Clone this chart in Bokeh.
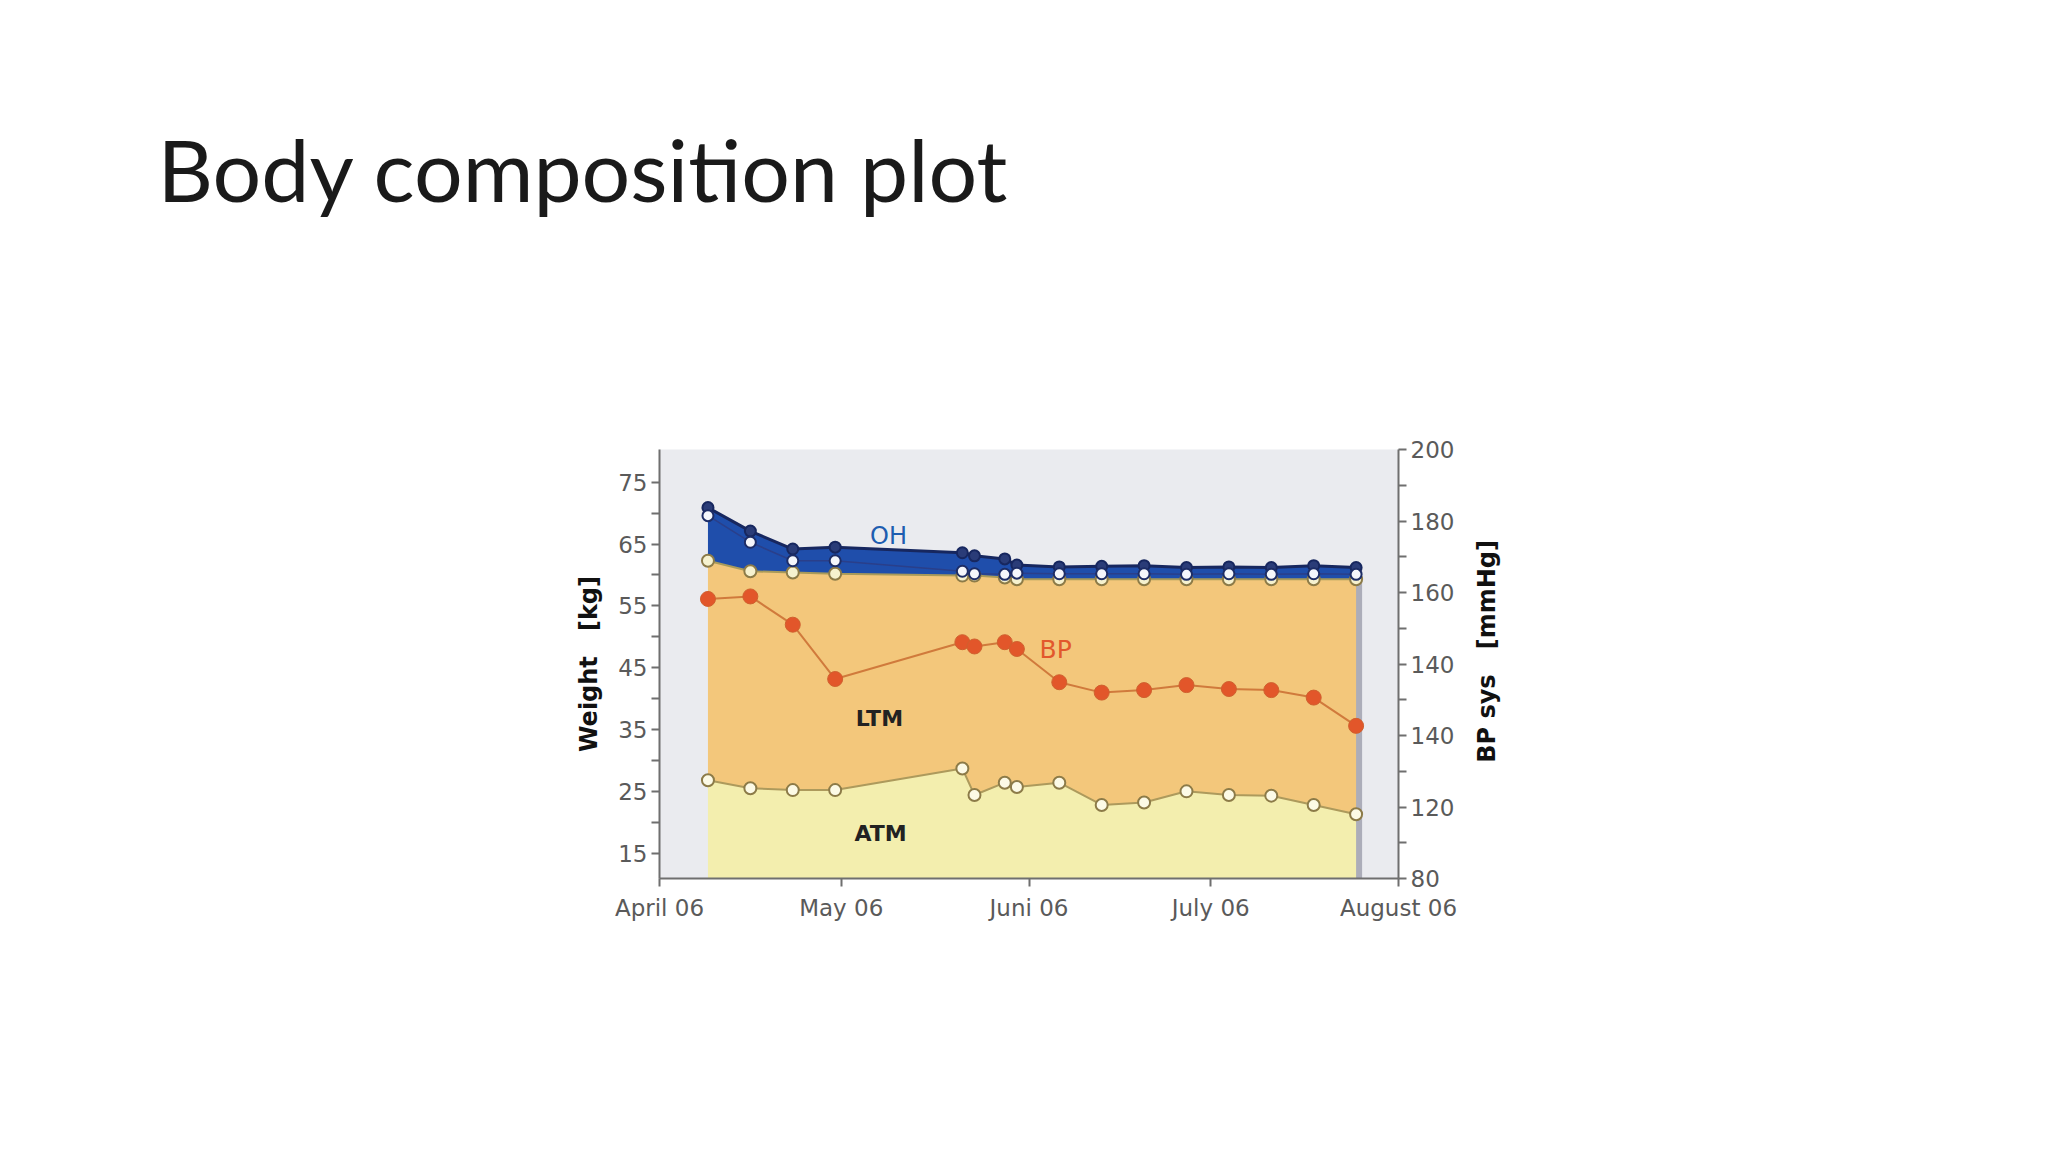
import math
import pandas as pd
from bokeh.plotting import figure
from bokeh.models import Range1d, LinearAxis, FixedTicker, Label, ColumnDataSource, Title
from bokeh.layouts import row
from bokeh.embed import file_html
from bokeh.resources import INLINE

# ---------------- data ----------------
dates = ["2006-04-09", "2006-04-16", "2006-04-23", "2006-04-30", "2006-05-21", "2006-05-23",
         "2006-05-28", "2006-05-30", "2006-06-06", "2006-06-13", "2006-06-20", "2006-06-27",
         "2006-07-04", "2006-07-11", "2006-07-18", "2006-07-25"]
weight_total = [70.9, 67.1, 64.2, 64.5, 63.6, 63.1, 62.6, 61.6, 61.3, 61.4, 61.5, 61.2,
                61.3, 61.2, 61.5, 61.2]
weight_normo = [69.6, 65.3, 62.3, 62.3, 60.6, 60.2, 60.1, 60.3, 60.2, 60.2, 60.2, 60.1,
                60.2, 60.1, 60.2, 60.1]
ltm_top = [62.3, 60.6, 60.4, 60.2, 59.9, 59.9, 59.6, 59.3, 59.3, 59.3, 59.3, 59.3,
           59.3, 59.3, 59.3, 59.3]
atm = [26.8, 25.5, 25.2, 25.2, 28.7, 24.4, 26.4, 25.7, 26.4, 22.8, 23.2, 25.0,
       24.4, 24.3, 22.8, 21.3]
bp_sys = [158.2, 158.9, 151.0, 135.8, 146.1, 144.9, 146.1, 144.2, 134.9, 132.0, 132.7, 134.1,
          133.0, 132.7, 130.6, 122.7]

start_date = "2006-04-01"
month_ticks = ["2006-04-01", "2006-05-01", "2006-06-01", "2006-07-01", "2006-08-01"]
month_labels = ["April 06", "May 06", "Juni 06", "July 06", "August 06"]
weight_ticks = [15, 25, 35, 45, 55, 65, 75]
weight_minor = [20, 30, 40, 50, 60, 70]
bp_ticks = [80, 100, 120, 140, 160, 180, 200]
bp_tick_labels = ["80", "120", "140", "140", "160", "180", "200"]
bp_minor = [90, 110, 130, 150, 170, 190]

t0 = pd.Timestamp(start_date)
days = [(pd.Timestamp(d) - t0).days for d in dates]
tick_days = [(pd.Timestamp(d) - t0).days for d in month_ticks]

src = ColumnDataSource(dict(x=days, tot=weight_total, normo=weight_normo, ltm=ltm_top,
                            atm=atm, bp=bp_sys, base=[0] * len(days)))

W = 2032
H = 1136
W_MAIN = 1468

p = figure(width=W_MAIN, height=H, output_backend="svg", toolbar_location=None,
           x_range=Range1d(tick_days[0], tick_days[-1]), y_range=Range1d(10.9, 80.3),
           min_border_left=659, min_border_right=W_MAIN - 1398, min_border_top=449,
           min_border_bottom=258, outline_line_color=None,
           background_fill_color="#eaebef", border_fill_color="white", title=None)
p.grid.visible = False

# blank spacer between frame and page title, then the page title
p.add_layout(Title(text="\u00a0", text_font_size="10px", standoff=207), "above")
p.add_layout(Title(text="Body composition plot", text_font="Lato", text_font_size="86px",
                   text_font_style="normal", text_color="#1a1a1a", align="left",
                   offset=-502, standoff=20), "above")

# right-edge shadow
p.line(x=[days[-1], days[-1]], y=[0, weight_total[-1]], line_color="#9c9eab",
       line_width=12, line_alpha=0.8)

# stacked areas
p.varea(x="x", y1="base", y2="atm", source=src, fill_color="#f3eeae")
p.varea(x="x", y1="atm", y2="ltm", source=src, fill_color="#f3c77b")
p.varea(x="x", y1="ltm", y2="tot", source=src, fill_color="#1f4eab")

# OH boundary lines
p.line(x="x", y="tot", source=src, line_color="#17275f", line_width=3)
p.line(x="x", y="normo", source=src, line_color="#2a3f8a", line_width=1.5)
p.line(x="x", y="ltm", source=src, line_color="#a89a5a", line_width=2)

# ATM line
p.line(x="x", y="atm", source=src, line_color="#ad9a5c", line_width=2)

# BP series on second axis
p.extra_y_ranges = {"bp": Range1d(bp_ticks[0], bp_ticks[-1])}
p.line(x="x", y="bp", source=src, y_range_name="bp", line_color="#d07a3c", line_width=2)
p.scatter(x="x", y="bp", source=src, y_range_name="bp", size=15, marker="circle",
          fill_color="#e2562a", line_color="#d0602e", line_width=1)

# markers
p.scatter(x="x", y="atm", source=src, size=12, fill_color="#fcfae6",
          line_color="#8c7b48", line_width=2)
p.scatter(x="x", y="ltm", source=src, size=12, fill_color="#f6f2cf",
          line_color="#8c7b48", line_width=2)
p.scatter(x="x", y="tot", source=src, size=11, fill_color="#2a3c78",
          line_color="#17275f", line_width=2)
p.scatter(x="x", y="normo", source=src, size=11, fill_color="#f4f6fb",
          line_color="#1d2d66", line_width=2)

# series labels
p.add_layout(Label(x=37.8, y=66.3, text="OH", text_font="DejaVu Sans", text_font_size="24px",
                   text_color="#1d5db0", text_align="center", text_baseline="middle"))
p.add_layout(Label(x=65.4, y=47.9, text="BP", text_font="DejaVu Sans", text_font_size="25px",
                   text_color="#e2582c", text_align="center", text_baseline="middle"))
p.add_layout(Label(x=36.3, y=36.8, text="LTM", text_font="DejaVu Sans", text_font_size="22px",
                   text_font_style="bold", text_color="#222222", text_align="center",
                   text_baseline="middle"))
p.add_layout(Label(x=36.5, y=18.2, text="ATM", text_font="DejaVu Sans", text_font_size="22px",
                   text_font_style="bold", text_color="#222222", text_align="center",
                   text_baseline="middle"))

AX_COL = "#6f6f6f"
TICK_TXT = "#5a5a5a"

def style_axis(ax):
    ax.axis_line_color = AX_COL
    ax.axis_line_width = 2
    ax.major_tick_line_color = AX_COL
    ax.minor_tick_line_color = AX_COL
    ax.major_tick_line_width = 2
    ax.minor_tick_line_width = 2
    ax.major_tick_out = 8
    ax.major_tick_in = 0
    ax.minor_tick_out = 8
    ax.minor_tick_in = 0
    ax.major_label_text_font = "DejaVu Sans"
    ax.major_label_text_font_size = "23px"
    ax.major_label_text_color = TICK_TXT
    ax.axis_label_text_font = "DejaVu Sans"
    ax.axis_label_text_font_size = "24px"
    ax.axis_label_text_font_style = "bold"
    ax.axis_label_text_color = "#111111"

# x axis
xa = p.xaxis[0]
xa.ticker = FixedTicker(ticks=tick_days, minor_ticks=[])
xa.major_label_overrides = {d: l for d, l in zip(tick_days, month_labels)}
style_axis(xa)
xa.major_label_standoff = 8

# left axis
ya = p.yaxis[0]
ya.ticker = FixedTicker(ticks=weight_ticks, minor_ticks=weight_minor)
ya.axis_label = "Weight\u00a0\u00a0\u00a0[kg]"
style_axis(ya)
ya.major_label_standoff = 4
ya.axis_label_standoff = 12

# right axis (ticks and numbers)
ra = LinearAxis(y_range_name="bp")
ra.ticker = FixedTicker(ticks=bp_ticks, minor_ticks=bp_minor)
ra.major_label_overrides = {t: l for t, l in zip(bp_ticks, bp_tick_labels)}
style_axis(ra)
ra.major_label_standoff = 4
p.add_layout(ra, "right")

# narrow companion panel holding the right axis title (reads bottom-to-top)
q = figure(width=W - W_MAIN, height=H, output_backend="svg", toolbar_location=None,
           x_range=Range1d(0, W - W_MAIN), y_range=Range1d(bp_ticks[0], bp_ticks[-1]),
           min_border_left=0, min_border_right=0, min_border_top=449, min_border_bottom=258,
           outline_line_color=None, background_fill_color="white",
           border_fill_color="white", title=None)
q.axis.visible = False
q.grid.visible = False
q.add_layout(Label(x=18, y=143.5, text="BP sys\u00a0\u00a0\u00a0[mmHg]", angle=math.pi / 2,
                   text_font="DejaVu Sans", text_font_size="24px", text_font_style="bold",
                   text_color="#111111", text_align="center", text_baseline="middle"))

open("out.html", "w").write(file_html(row(p, q, spacing=0), INLINE))
